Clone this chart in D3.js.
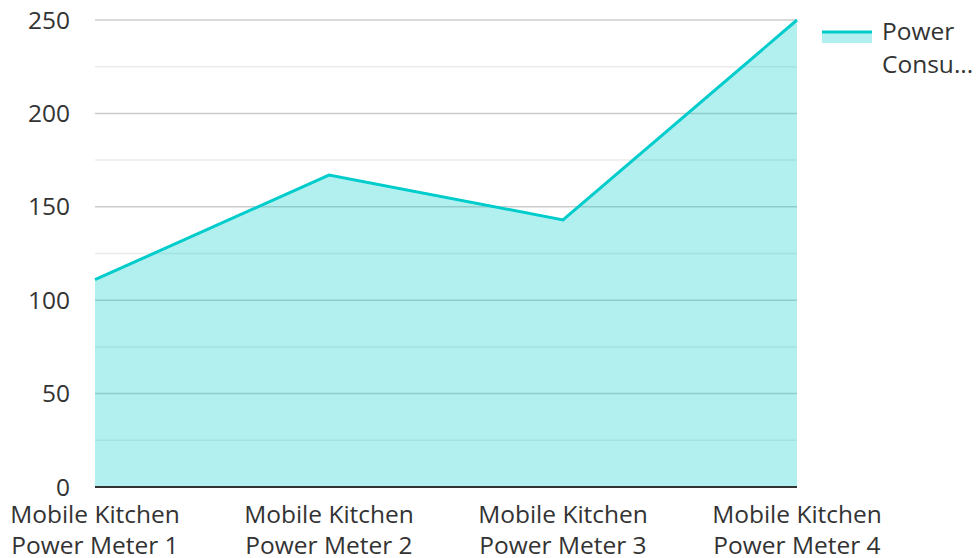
<!DOCTYPE html>
<html><head><meta charset="utf-8">
<script src="https://cdn.jsdelivr.net/npm/d3@7"></script>
<style>body{margin:0;background:#fff}text{font-family:"Open Sans",sans-serif;fill:#333}</style>
</head><body>
<svg id="c" width="976" height="558"></svg>
<script>
const categories = [["Mobile Kitchen","Power Meter 1"],["Mobile Kitchen","Power Meter 2"],["Mobile Kitchen","Power Meter 3"],["Mobile Kitchen","Power Meter 4"]];
const values = [111, 167, 143, 250];
const majorTicks = [0, 50, 100, 150, 200, 250];
const minorTicks = [25, 75, 125, 175, 225];
const seriesName = ["Power", "Consu..."];

const svg = d3.select("#c");
const L = 95, R = 797, T = 20, B = 487;
const x = d3.scalePoint().domain(d3.range(values.length)).range([L, R]);
const y = d3.scaleLinear().domain([0, 250]).range([B, T]);
const fs = 24.5;

svg.append("g").selectAll("line").data(minorTicks).join("line")
  .attr("x1", L).attr("x2", R).attr("y1", d => y(d)).attr("y2", d => y(d))
  .attr("stroke", "#ebebeb").attr("stroke-width", 1.5);
svg.append("g").selectAll("line").data(majorTicks.filter(d => d > 0)).join("line")
  .attr("x1", L).attr("x2", R).attr("y1", d => y(d)).attr("y2", d => y(d))
  .attr("stroke", "#cccccc").attr("stroke-width", 1.5);

const area = d3.area().x((d, i) => x(i)).y0(y(0)).y1(d => y(d));
const line = d3.line().x((d, i) => x(i)).y(d => y(d));
svg.append("path").datum(values).attr("d", area).attr("fill", "#00cccc").attr("fill-opacity", 0.3);
svg.append("path").datum(values).attr("d", line).attr("fill", "none").attr("stroke", "#00cccc").attr("stroke-width", 3);

svg.append("line").attr("x1", L).attr("x2", R).attr("y1", B).attr("y2", B).attr("stroke", "#333").attr("stroke-width", 2);

svg.append("g").selectAll("text").data(majorTicks).join("text")
  .attr("x", 70).attr("y", d => y(d)).attr("dy", "0.35em").attr("text-anchor", "end")
  .attr("font-size", fs).text(d => d);

const xl = svg.append("g").selectAll("text").data(categories).join("text")
  .attr("x", (d, i) => x(i)).attr("y", 523).attr("text-anchor", "middle").attr("font-size", fs);
xl.selectAll("tspan").data(d => d).join("tspan")
  .attr("x", function() { return this.parentNode.getAttribute("x"); })
  .attr("dy", (d, i) => i === 0 ? 0 : 31).text(d => d);

const lg = svg.append("g");
lg.append("rect").attr("x", 822).attr("y", 31).attr("width", 50).attr("height", 12).attr("fill", "#00cccc").attr("fill-opacity", 0.3);
lg.append("line").attr("x1", 822).attr("x2", 872).attr("y1", 32).attr("y2", 32).attr("stroke", "#00cccc").attr("stroke-width", 3);
lg.append("text").attr("x", 882).attr("y", 40).attr("font-size", fs)
  .selectAll("tspan").data(seriesName).join("tspan").attr("x", 882).attr("dy", (d, i) => i ? 33 : 0).text(d => d);
</script>
</body></html>
